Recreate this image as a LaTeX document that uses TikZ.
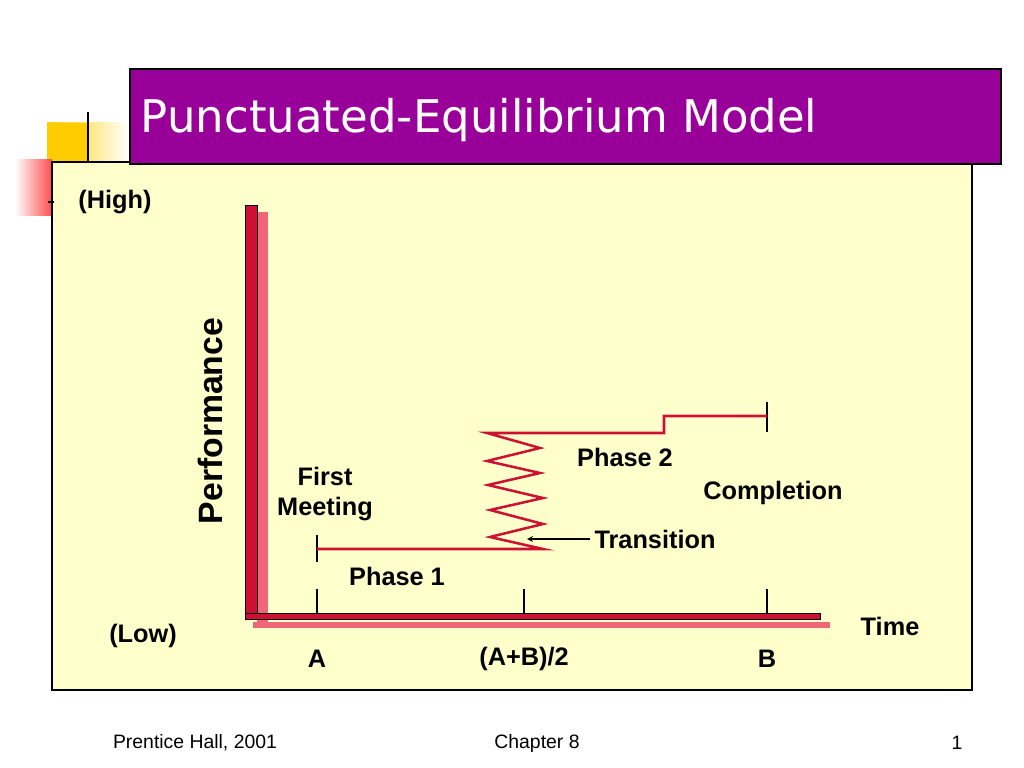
\documentclass[tikz,border=0pt]{standalone}
\usepackage{fontspec}
\setmainfont{Liberation Sans}
\newfontfamily\titlefont{DejaVu Sans}
\usetikzlibrary{arrows}
\definecolor{slidepurple}{RGB}{153,0,153}
\definecolor{paneyellow}{RGB}{255,255,204}
\definecolor{axisred}{RGB}{204,17,51}
\definecolor{shadowpink}{RGB}{238,102,119}
\definecolor{decoyellow}{RGB}{255,204,0}
\tikzstyle{txt} = [font=\bfseries\fontsize{18}{21}\selectfont, align=center]
\tikzstyle{footer} = [font=\fontsize{13.8}{16}\selectfont]
\tikzstyle{curve} = [axisred, line width=1.8pt]
\tikzstyle{tick} = [black, line width=1.4pt]

\begin{document}
\begin{tikzpicture}[x=0.025cm, y=-0.025cm]
\useasboundingbox (0,0) rectangle (1024,768);

% Decorations
\shade[left color=decoyellow, right color=white] (47,123) rectangle (128,162);
\fill[decoyellow] (47,123) rectangle (88,162);
\shade[right color=red!70, left color=white] (15,160) rectangle (52,215);

% Panes
\draw[fill=paneyellow, line width=0.8pt] (52,162) rectangle (972,690);
\draw[fill=slidepurple, line width=0.8pt] (130,69) rectangle (1001,164);
\node (title) [anchor=west, text=white, font=\titlefont\fontsize{32}{36}\selectfont] at (136,120) {Punctuated-Equilibrium Model};
\draw[line width=1.2pt] (88,112) -- (88,162);
\draw[line width=1.2pt] (48,202) -- (54,202);

% Axes
\fill[shadowpink] (257,212) rectangle (268,628);
\fill[shadowpink] (253,622) rectangle (830,628);
\draw[fill=axisred] (245,205) rectangle (257,618);
\draw[fill=axisred] (245,613) rectangle (820,619);

% Ticks
\coordinate (tA) at (317,614);
\coordinate (tM) at (524,614);
\coordinate (tB) at (767,614);
\foreach \t in {tA, tM, tB}
  \draw[tick] (\t) -- ++(0,-25);
\draw[tick] (317,535) -- (317,562);
\draw[tick] (767,402) -- (767,432);

% Performance curve
\draw[curve] (317,549) -- (543,549) -- (490,537) -- (543,524) -- (490,510)
  -- (543,498) -- (488,485) -- (540,473) -- (487,461) -- (540,448)
  -- (487,433) -- (664,433) -- (664,416) -- (767,416);

% Labels
\node (high) [txt] at (115,202) {(High)};
\node (low) [txt] at (143,636) {(Low)};
\node (perf) [txt, rotate=90, font=\bfseries\fontsize{24}{28}\selectfont] at (210,421) {Performance};
\node (time) [txt] at (890,626) {Time};
\node (lA) [txt] at (317,659) {A};
\node (lM) [txt] at (524,659) {(A+B)/2};
\node (lB) [txt] at (767,659) {B};
\node (first) [txt, font=\bfseries\fontsize{18}{21}\selectfont] at (325,494) {First\\Meeting};
\node (phase1) [txt] at (397,576) {Phase 1};
\node (phase2) [txt] at (625,457) {Phase 2};
\node (done) [txt] at (773,493) {Completion};
\node (trans) [txt] at (655,539) {Transition};
\coordinate (tip) at (527,539);
\draw[->, >=stealth, line width=0.9pt] (trans.west) -- (tip);

% Footer
\node (src) [footer] at (195,743) {Prentice Hall, 2001};
\node (chap) [footer] at (537,743) {Chapter 8};
\node (page) [footer] at (957,743) {1};
\end{tikzpicture}
\end{document}
